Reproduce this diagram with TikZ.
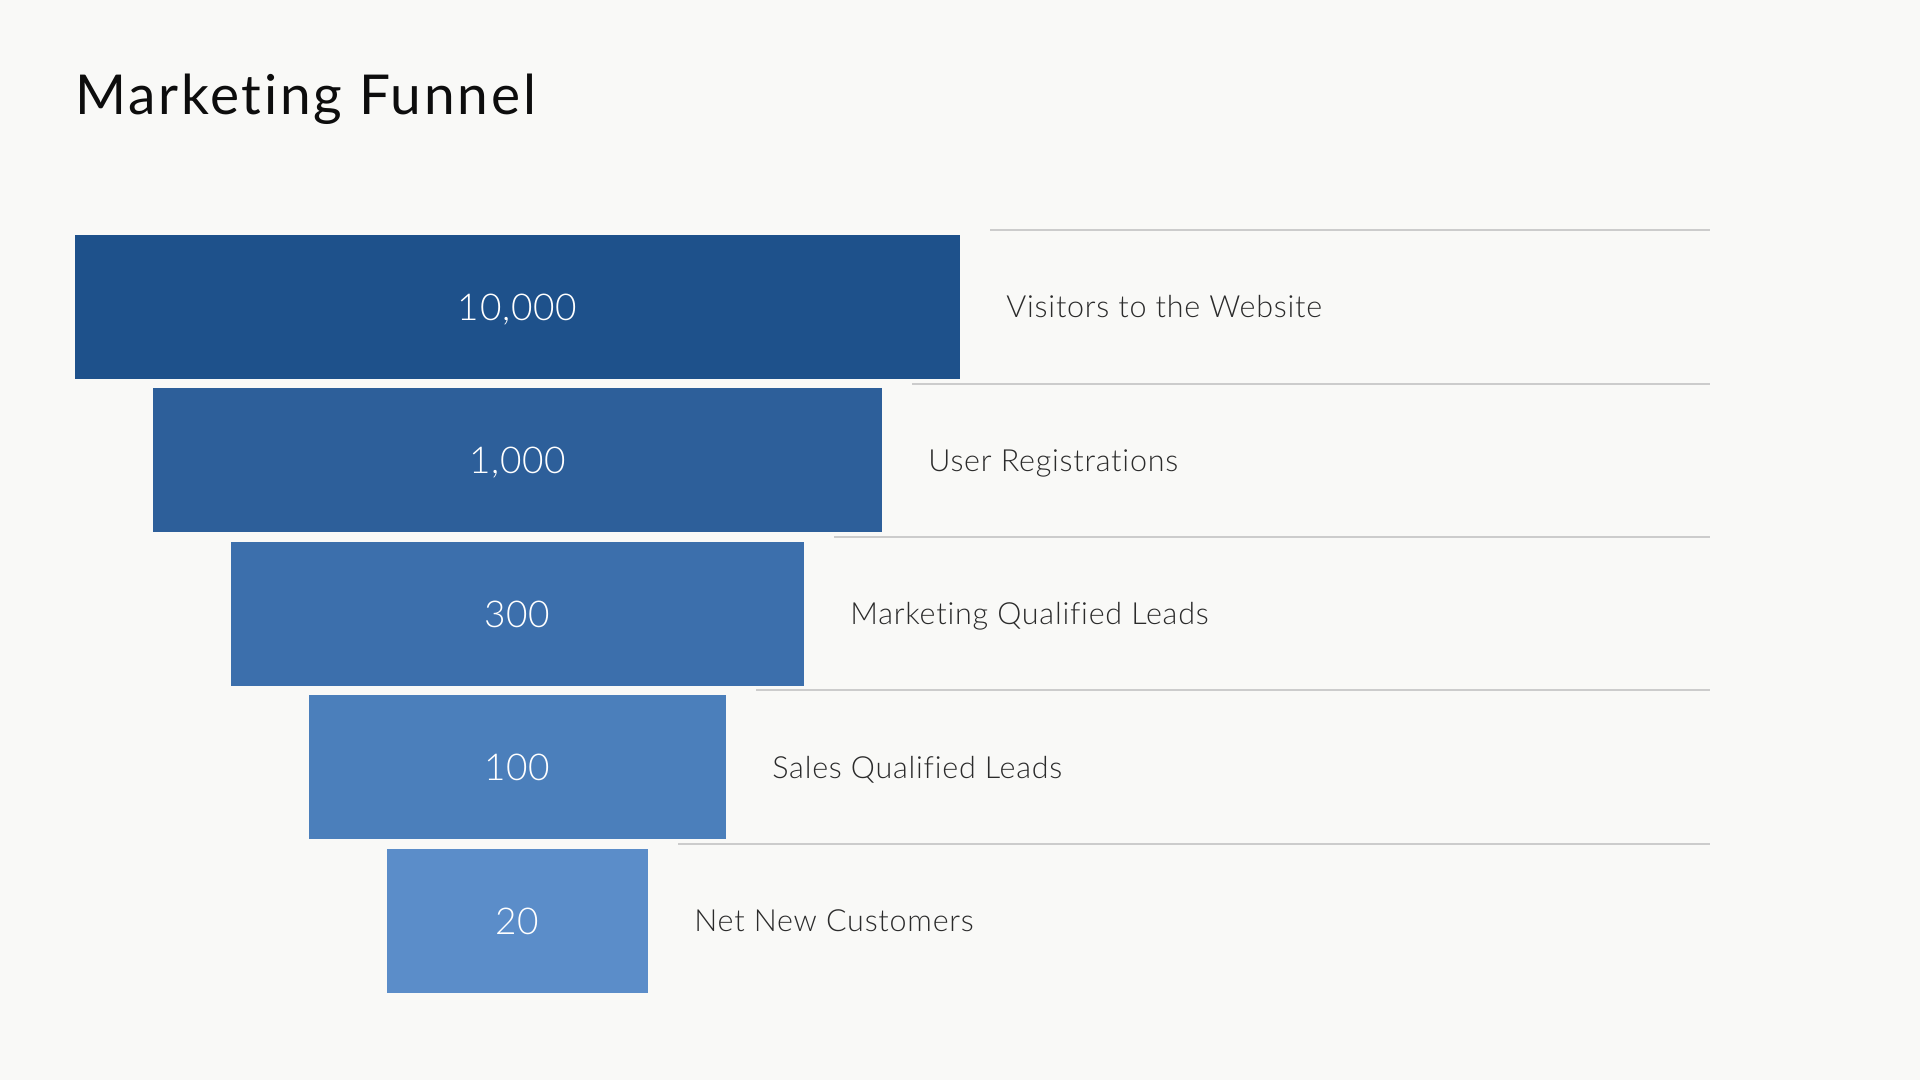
\documentclass[tikz,border=0pt]{standalone}
\usepackage{fontspec}
\setmainfont{Lato Light}[Ligatures=NoCommon]
\newfontfamily\titlefont{Lato}[Ligatures=NoCommon, LetterSpace=5]
\usepackage{tikz}
\usetikzlibrary{positioning,calc,backgrounds}

\definecolor{paper}{HTML}{F9F9F7}
\definecolor{stageA}{HTML}{1E518B}
\definecolor{stageB}{HTML}{2D5F9A}
\definecolor{stageC}{HTML}{3C6FAC}
\definecolor{stageD}{HTML}{4B7FBB}
\definecolor{stageE}{HTML}{5B8DC9}
\definecolor{rulegray}{HTML}{CCCCCC}
\definecolor{labelgray}{HTML}{2B2B2B}

\tikzset{
	stagebar/.style={rectangle, inner sep=0pt, minimum height=144pt},
	stagenum/.style={anchor=base, inner sep=0pt, text=white,
		font=\fontsize{37}{40}\selectfont\addfontfeature{LetterSpace=2}},
	stagetext/.style={anchor=base west, inner sep=0pt, text=labelgray,
		font=\fontsize{30.5}{34}\selectfont\addfontfeature{LetterSpace=2.5}},
	sepline/.style={draw=rulegray, line width=2pt}
}

\begin{document}
\begin{tikzpicture}[x=1pt,y=1pt]
	\useasboundingbox[fill=paper] (0,0) rectangle (1920,1080);

	\node (title) [anchor=base west, inner sep=0pt, text=black!95,
		font=\titlefont\fontsize{55}{60}\selectfont]
		at (75,965) {Marketing Funnel};

	% bars of the funnel
	\node (A) [stagebar, fill=stageA, minimum width=885pt] at (517.5,773) {};
	\node (B) [stagebar, fill=stageB, minimum width=729pt, below=9pt of A] {};
	\node (C) [stagebar, fill=stageC, minimum width=573pt, below=9pt of B] {};
	\node (D) [stagebar, fill=stageD, minimum width=417pt, below=9pt of C] {};
	\node (E) [stagebar, fill=stageE, minimum width=261pt, below=9pt of D] {};

	\node (nA) [stagenum] at ($(A.center)+(0,-13.5)$) {10,000};
	\node (nB) [stagenum] at ($(B.center)+(0,-13.5)$) {1,000};
	\node (nC) [stagenum] at ($(C.center)+(0,-13.5)$) {300};
	\node (nD) [stagenum] at ($(D.center)+(0,-13.5)$) {100};
	\node (nE) [stagenum] at ($(E.center)+(0,-13.5)$) {20};

	% stage names
	\node (lA) [stagetext] at ($(A.east)+(46,-11)$) {Visitors to the Website};
	\node (lB) [stagetext] at ($(B.east)+(46,-11)$) {User Registrations};
	\node (lC) [stagetext] at ($(C.east)+(46,-11)$) {Marketing Qualified Leads};
	\node (lD) [stagetext] at ($(D.east)+(46,-11)$) {Sales Qualified Leads};
	\node (lE) [stagetext] at ($(E.east)+(46,-11)$) {Net New Customers};

	% rules above each stage
	\coordinate (sA) at ($(A.north east)+(30,4.5)$);
	\coordinate (sB) at ($(B.north east)+(30,4.5)$);
	\coordinate (sC) at ($(C.north east)+(30,4.5)$);
	\coordinate (sD) at ($(D.north east)+(30,4.5)$);
	\coordinate (sE) at ($(E.north east)+(30,4.5)$);
	\draw[sepline] (sA) -- (sA -| 1710,0);
	\draw[sepline] (sB) -- (sB -| 1710,0);
	\draw[sepline] (sC) -- (sC -| 1710,0);
	\draw[sepline] (sD) -- (sD -| 1710,0);
	\draw[sepline] (sE) -- (sE -| 1710,0);
\end{tikzpicture}
\end{document}
